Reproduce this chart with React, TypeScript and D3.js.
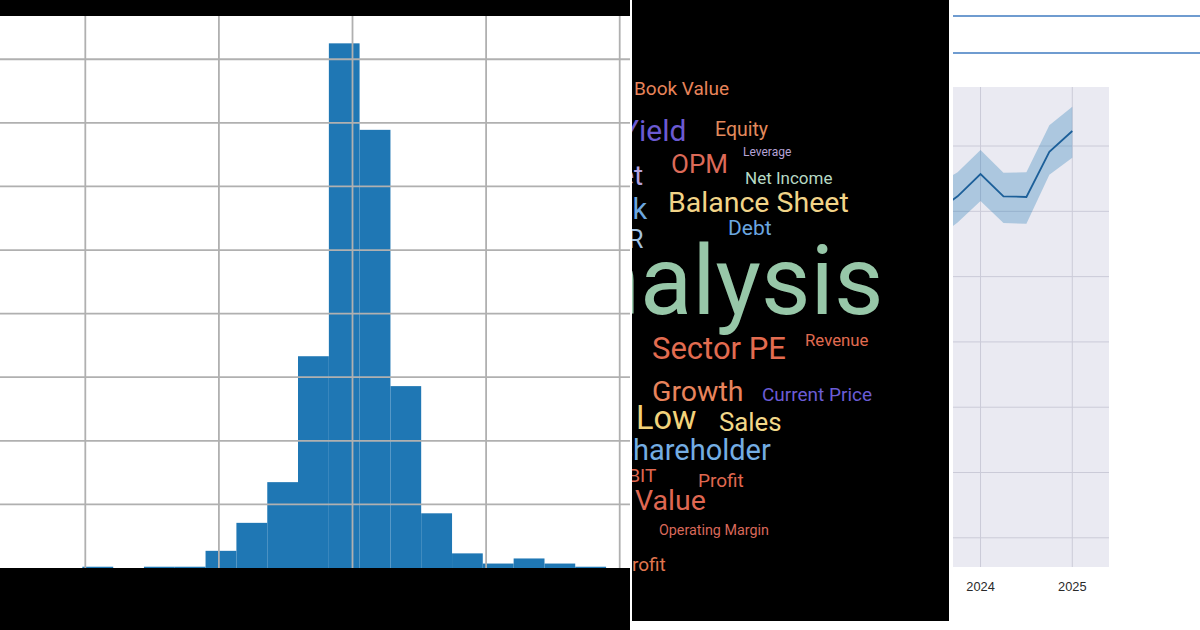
import React, { useLayoutEffect, useRef } from "react";
import * as d3 from "d3";

// ---------- Histogram (left panel) ----------
const histEdges = [-0.2022, -0.1791, -0.1561, -0.133, -0.11, -0.0869, -0.0638, -0.0408, -0.0177, 0.0053, 0.0284, 0.0514, 0.0745, 0.0975, 0.1206, 0.1437, 0.1667, 0.1898];
const histCounts = [2, 0, 2, 2, 27, 71, 135, 333, 825, 689, 286, 86, 23, 7, 15, 7, 2];
const histXTicks = [-0.2, -0.1, 0, 0.1, 0.2];
const histYTicks = [100, 200, 300, 400, 500, 600, 700, 800];

// ---------- Word cloud (middle panel) ----------
const cloudWords = [
  "Book Value", "Yield", "Equity", "Leverage", "OPM", "Market", "Net Income", "Stock",
  "Balance Sheet", "CAGR", "Debt", "Analysis", "Sector PE", "Revenue", "Growth", "Current Price",
  "Low", "Sales", "Shareholder", "EBIT", "Profit", "Value", "Operating Margin", "Profit",
];

// ---------- Forecast line (right panel) ----------
const quarters = [2023.5, 2023.75, 2024, 2024.25, 2024.5, 2024.75, 2025];
const forecastMean = [59.7, 62.3, 65.7, 62.3, 62.2, 69.1, 72.3];
const forecastUpper = [63.8, 66.0, 69.4, 65.9, 66.0, 73.2, 76.0];
const forecastLower = [55.5, 58.3, 61.6, 58.2, 58.1, 65.6, 68.2];
const yearTicks = [2023, 2024, 2025];
const valueTicks = [10, 20, 30, 40, 50, 60, 70];

// layout for the word cloud: [anchor, x, baseline, fontSize, color, pinCharIndex, pinX]
// pinCharIndex >= 0: the given character is placed to start at pinX (word cut by the panel edge)
const cloudLayout: [string, number, number, number, string, number, number][] = [
  ["start", 634, 95, 19, "#e8845a", -1, 0],
  ["start", 600, 141, 30, "#6b5ad2", 1, 639],
  ["start", 715, 135.5, 19.5, "#e38a5c", -1, 0],
  ["start", 743, 156, 12, "#b5a3d6", -1, 0],
  ["start", 671, 173, 26, "#dc6a58", -1, 0],
  ["start", 560, 184.5, 28, "#b3a2de", 5, 634],
  ["start", 745, 183.5, 17, "#b6d9c4", -1, 0],
  ["start", 570, 219, 29, "#6ca6df", 4, 632.5],
  ["start", 668, 212, 28.5, "#f2d488", -1, 0],
  ["start", 580, 247.5, 25, "#a4c2e2", 3, 628],
  ["start", 728, 235, 21, "#6ba7e0", -1, 0],
  ["start", 540, 314, 96, "#97c7a8", 2, 640],
  ["start", 652, 358.5, 31, "#e36c50", -1, 0],
  ["start", 805, 346, 16.8, "#e06b50", -1, 0],
  ["start", 652, 400.5, 28.5, "#e8845c", -1, 0],
  ["start", 762, 400.5, 19, "#6b5cd5", -1, 0],
  ["start", 636, 429, 32.5, "#f2d27a", -1, 0],
  ["start", 719, 431, 25.8, "#f2d88a", -1, 0],
  ["start", 617, 460, 29, "#74ade3", 1, 633],
  ["start", 600, 482, 19, "#e06850", 2, 640],
  ["start", 698, 486.5, 19, "#e0684f", -1, 0],
  ["start", 635, 510, 28.5, "#df6752", -1, 0],
  ["start", 659, 534.5, 14.3, "#d9685a", -1, 0],
  ["start", 620.5, 571, 19, "#e0764f", 1, 632],
];

export default function App() {
  const textRefs = useRef<(SVGTextElement | null)[]>([]);

  useLayoutEffect(() => {
    cloudLayout.forEach((lay, i) => {
      const el = textRefs.current[i];
      const [, x, , , , idx, pinX] = lay;
      if (!el || idx < 0) return;
      try {
        const p = el.getStartPositionOfChar(idx).x;
        el.setAttribute("x", String(x + (pinX - p)));
      } catch (e) {
        /* keep default */
      }
    });
  }, []);

  // Histogram geometry
  const hL = 0, hR = 630, hT = 16, hB = 568;
  const xH = d3.scaleLinear().domain([-0.26385, 0.2077]).range([hL, hR]);
  const yH = d3.scaleLinear().domain([0, 868]).range([hB, hT]);

  // Cloud panel
  const cL = 632, cR = 949, cT = 0, cB = 621;

  // Forecast panel
  const fL = 953, fR = 1109, fT = 87, fB = 567;
  const xF = d3.scaleLinear().domain([2023.7, 2025.4]).range([fL, fR]);
  const yF = d3.scaleLinear().domain([5.53, 79.04]).range([fB, fT]);
  const pts = quarters.map((q, i) => ({ q, m: forecastMean[i], u: forecastUpper[i], l: forecastLower[i] }));
  const area = d3.area<any>().x((d) => xF(d.q)).y0((d) => yF(d.l)).y1((d) => yF(d.u));
  const line = d3.line<any>().x((d) => xF(d.q)).y((d) => yF(d.m));

  return (
    <svg width={1200} height={630} style={{ position: "absolute", left: 0, top: 0, display: "block" }}>
      <defs>
        <clipPath id="cloudClip"><rect x={cL} y={cT} width={cR - cL} height={cB - cT} /></clipPath>
        <clipPath id="fcClip"><rect x={fL} y={fT} width={fR - fL} height={fB - fT} /></clipPath>
        <clipPath id="histClip"><rect x={hL} y={hT} width={hR - hL} height={hB - hT} /></clipPath>
      </defs>
      <rect x={0} y={0} width={1200} height={630} fill="#ffffff" />

      {/* ---------- Left: histogram ---------- */}
      <g>
        <rect x={hL} y={hT} width={hR - hL} height={hB - hT} fill="#ffffff" />
        <g clipPath="url(#histClip)">
          {histCounts.map((c, i) =>
            c > 0 ? (
              <rect key={i} x={xH(histEdges[i])} y={yH(c)} width={xH(histEdges[i + 1]) - xH(histEdges[i])}
                height={yH(0) - yH(c)} fill="#1f77b4" />
            ) : null
          )}
          {histXTicks.map((t) => (
            <line key={"hx" + t} x1={xH(t)} x2={xH(t)} y1={hT} y2={hB} stroke="#b0b0b0" strokeWidth={1.8} />
          ))}
          {histYTicks.map((t) => (
            <line key={"hy" + t} x1={hL} x2={hR} y1={yH(t)} y2={yH(t)} stroke="#b0b0b0" strokeWidth={1.8} />
          ))}
        </g>
        <rect x={0} y={0} width={630} height={hT} fill="#000000" />
        <rect x={0} y={hB} width={630} height={630 - hB} fill="#000000" />
      </g>

      {/* ---------- Right: forecast ---------- */}
      <g>
        <line x1={fL} x2={1200} y1={16} y2={16} stroke="#3f7bc0" strokeWidth={1.6} />
        <line x1={fL} x2={1200} y1={53} y2={53} stroke="#3f7bc0" strokeWidth={1.6} />
        <rect x={fL} y={fT} width={fR - fL} height={fB - fT} fill="#eaeaf2" />
        <g clipPath="url(#fcClip)">
          {valueTicks.map((t) => (
            <line key={"fy" + t} x1={fL} x2={fR} y1={yF(t)} y2={yF(t)} stroke="#cbcbd8" strokeWidth={1} />
          ))}
          {yearTicks.map((t) => (
            <line key={"fx" + t} x1={xF(t)} x2={xF(t)} y1={fT} y2={fB} stroke="#cbcbd8" strokeWidth={1} />
          ))}
          <path d={area(pts) || ""} fill="#1f77b4" fillOpacity={0.3} />
          <path d={line(pts) || ""} fill="none" stroke="#1c5f99" strokeWidth={1.8} />
        </g>
        {yearTicks
          .filter((t) => xF(t) >= fL && xF(t) <= fR)
          .map((t) => (
            <text key={"yl" + t} x={xF(t)} y={591} textAnchor="middle" fontFamily="Liberation Sans, Arial, sans-serif"
              fontSize={12.8} fill="#2a2a2a">{t}</text>
          ))}
      </g>

      {/* ---------- Middle: word cloud ---------- */}
      <rect x={cL} y={cT} width={cR - cL} height={cB - cT} fill="#000000" />
      <g clipPath="url(#cloudClip)" fontFamily="Roboto, 'Open Sans', sans-serif">
        {cloudWords.map((w, i) => {
          const [anchor, x, y, size, color] = cloudLayout[i];
          return (
            <text key={w + i} ref={(el) => { textRefs.current[i] = el; }} x={x} y={y}
              textAnchor={anchor as any} fontSize={size} fill={color}>{w}</text>
          );
        })}
      </g>
    </svg>
  );
}
